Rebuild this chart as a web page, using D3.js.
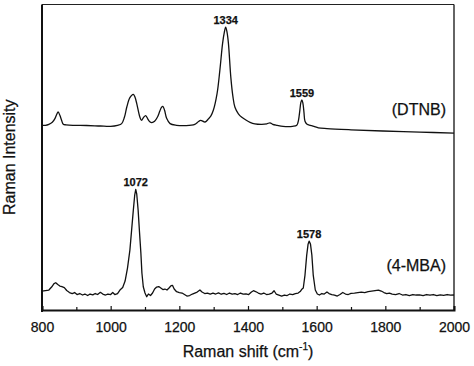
<!DOCTYPE html>
<html>
<head>
<meta charset="utf-8">
<script src="https://cdn.jsdelivr.net/npm/d3@7"></script>
<style>
  body { margin: 0; background: #fff; }
  svg { display: block; }
  text { font-family: "Liberation Sans", Arial, sans-serif; fill: #111; stroke: #111; stroke-width: 0.25px; }
</style>
</head>
<body>
<div id="chart"></div>
<script>
// Raman shift (cm-1) and intensity (a.u.)
var dtnbShift = [800, 810, 820, 830, 838, 843, 847, 852, 857, 862, 870, 890, 930, 970, 1000,
  1020, 1032, 1040, 1047, 1056, 1066, 1071, 1076, 1085, 1090, 1096, 1102, 1108, 1114, 1120,
  1128, 1136, 1143, 1148, 1152, 1157, 1163, 1173, 1192, 1220, 1245, 1255, 1262, 1275, 1285,
  1292, 1299, 1310, 1318, 1326, 1331, 1335, 1339, 1343, 1350, 1356, 1362, 1372, 1382, 1395,
  1406, 1420, 1440, 1455, 1464, 1472, 1485, 1502, 1530, 1542, 1547, 1551, 1554, 1557, 1560,
  1563, 1566, 1572, 1582, 1592, 1605, 1630, 1700, 1793, 1900, 2000];
var dtnbInt = [184, 184, 185, 187, 191, 195, 197.3, 194, 189, 185, 184.5, 184, 183.8, 183.3, 183,
  184, 185.7, 192, 202.3, 211.7, 215, 212, 205.7, 192.3, 189, 192, 193.7, 190.5, 187.5, 186.7,
  188, 192, 198, 202, 203, 199, 191, 185.7, 184, 183.7, 185, 187.5, 189, 187.3, 190.5,
  193.5, 199, 216, 239, 266, 277, 282.3, 277, 266, 232, 213, 202, 195.5, 192, 189,
  187, 185.5, 185, 185.5, 186.5, 185, 184, 183, 183, 184, 189, 199, 207, 209.5, 206,
  197, 188, 185, 184, 183, 181.5, 180.7, 179.5, 178.3, 177.2, 176.2];

var mbaShift = [800, 810, 820, 828, 835, 840, 846, 852, 858, 865, 872, 880, 888, 895, 902,
  910, 918, 925, 933, 940, 948, 955, 962, 970, 977, 985, 992, 1000, 1006, 1012,
  1020, 1027, 1035, 1042, 1049, 1056, 1061, 1066, 1070, 1073, 1076, 1080, 1084, 1088, 1091,
  1095, 1100, 1105, 1110, 1116, 1122, 1128, 1134, 1140, 1146, 1152, 1158, 1164, 1170, 1176,
  1180, 1185, 1192, 1200, 1208, 1215, 1222, 1230, 1238, 1245, 1252, 1260, 1266, 1274, 1282,
  1290, 1298, 1306, 1314, 1322, 1330, 1338, 1346, 1354, 1362, 1370, 1378, 1386, 1394, 1402,
  1410, 1416, 1422, 1430, 1438, 1446, 1454, 1462, 1470, 1476, 1482, 1490, 1498, 1506, 1514,
  1522, 1530, 1538, 1546, 1552, 1556, 1561, 1566, 1571, 1575, 1578, 1582, 1586, 1590, 1596,
  1602, 1608, 1615, 1622, 1630, 1636, 1644, 1652, 1660, 1668, 1676, 1684, 1692, 1700, 1710,
  1720, 1730, 1740, 1750, 1760, 1770, 1780, 1788, 1796, 1804, 1812, 1820, 1830, 1840, 1850,
  1860, 1870, 1880, 1890, 1900, 1910, 1920, 1930, 1940, 1950, 1960, 1970, 1980, 1990, 2000];
var mbaInt = [18, 18.5, 19, 22, 25.5, 26.3, 24.5, 23, 22.5, 21.5, 18.5, 16.5, 15.5, 16.5, 14.5,
  15.5, 14, 15, 13.5, 15, 14.2, 15.5, 14.5, 16.7, 15, 14, 15, 14.5, 16.5, 14.5,
  15.5, 19, 21.5, 28, 41, 59, 79, 99, 114, 119.7, 115, 99, 77, 56, 36,
  22.3, 16, 12.3, 15, 13.5, 16, 20, 22, 22.5, 21, 19.5, 20, 19, 21, 23.5,
  23.7, 20, 17.3, 16.5, 16, 14.5, 13, 13.5, 15, 16, 17, 19, 17, 15.5, 16,
  15, 16, 15, 16.2, 14.8, 15.7, 14.5, 16, 15, 15.5, 14.5, 16, 15, 15.2, 14.5,
  17, 18.3, 17.5, 16, 15, 16, 14.5, 15, 16, 18.3, 15, 14, 13, 14, 13.5,
  15, 14.5, 15.5, 16, 17.5, 19.5, 21, 34, 54, 65, 68, 65, 54, 34, 19,
  15, 14, 15.5, 15, 17, 15.5, 14.5, 14, 13, 14.5, 16.5, 15, 14.5, 15.7, 16,
  16.5, 17, 16.5, 17.5, 18, 18.5, 19, 18, 16.5, 15.5, 16, 15, 14.5, 15.5, 14,
  14.5, 13.5, 14.5, 14, 14.2, 13.5, 14.5, 13.8, 14.5, 13.5, 14.2, 13.7, 14.5, 13.8, 14];

var xTicks = [800, 1000, 1200, 1400, 1600, 1800, 2000];
var minorTicks = [900, 1100, 1300, 1500, 1700, 1900];
var peakLabels = ["1334", "1559", "1072", "1578"];
var peakShift = [1335, 1557, 1073, 1578];
var peakInt = [282.3, 209.5, 119.7, 68];
var seriesNames = ["(DTNB)", "(4-MBA)"];

var W = 474, H = 366;
var margin = {top: 4.5, right: 20, bottom: 56, left: 42};
var width = W - margin.left - margin.right,
    height = H - margin.top - margin.bottom;

var svg = d3.select("#chart").append("svg")
  .attr("width", W).attr("height", H);
var g = svg.append("g")
  .attr("transform", "translate(" + margin.left + "," + margin.top + ")");

var x = d3.scaleLinear().domain([800, 2000]).range([0, width]);
var y = d3.scaleLinear().domain([0, 305]).range([height - 1, 0]);

// frame
g.append("line").attr("x1", 0).attr("x2", width).attr("y1", 0).attr("y2", 0)
  .attr("stroke", "#222").attr("stroke-width", 1);
g.append("line").attr("x1", width).attr("x2", width).attr("y1", 0).attr("y2", height)
  .attr("stroke", "#111").attr("stroke-width", 1.3);

// bottom axis, ticks pointing inside
var xAxis = g.append("g")
  .attr("transform", "translate(0," + height + ")")
  .call(d3.axisBottom(x).tickValues(xTicks).tickSize(-4).tickPadding(12).tickFormat(d3.format("d")));
xAxis.select(".domain").attr("stroke", "#111").attr("stroke-width", 2);
xAxis.selectAll(".tick line").attr("stroke", "#111").attr("stroke-width", 1.2);
xAxis.selectAll(".tick text").attr("font-size", 14).attr("fill", "#111")
  .style("font-family", "'Liberation Sans', Arial, sans-serif");

var minor = g.append("g")
  .attr("transform", "translate(0," + height + ")")
  .call(d3.axisBottom(x).tickValues(minorTicks).tickSize(-3).tickFormat(""));
minor.select(".domain").remove();
minor.selectAll(".tick line").attr("stroke", "#111").attr("stroke-width", 1.2);

// left axis, no ticks
g.append("line").attr("x1", 0).attr("x2", 0).attr("y1", 0).attr("y2", height + 2)
  .attr("stroke", "#111").attr("stroke-width", 2);

// spectra
var smooth = d3.line()
  .x(function (d) { return x(d[0]); })
  .y(function (d) { return y(d[1]); })
  .curve(d3.curveCatmullRom.alpha(0.5));
var jagged = d3.line()
  .x(function (d) { return x(d[0]); })
  .y(function (d) { return y(d[1]); });

var dtnb = dtnbShift.map(function (s, i) { return [s, dtnbInt[i]]; });
var mba = mbaShift.map(function (s, i) { return [s, mbaInt[i]]; });

g.append("path").datum(dtnb)
  .attr("fill", "none").attr("stroke", "#111").attr("stroke-width", 1.3)
  .attr("stroke-linejoin", "round").attr("d", smooth);
g.append("path").datum(mba)
  .attr("fill", "none").attr("stroke", "#111").attr("stroke-width", 1.3)
  .attr("stroke-linejoin", "round").attr("d", jagged);

// peak labels
peakLabels.forEach(function (lab, i) {
  g.append("text")
    .attr("x", x(peakShift[i]))
    .attr("y", y(peakInt[i]) - 3)
    .attr("text-anchor", "middle")
    .attr("font-size", 11)
    .attr("font-weight", "bold")
    .text(lab);
});

// series names
g.append("text").attr("x", width - 8).attr("y", 110.5)
  .attr("text-anchor", "end").attr("font-size", 16).text(seriesNames[0]);
g.append("text").attr("x", width - 8).attr("y", 266.5)
  .attr("text-anchor", "end").attr("font-size", 16).text(seriesNames[1]);

// axis titles
var xt = svg.append("text")
  .attr("x", margin.left + width / 2)
  .attr("y", 357)
  .attr("text-anchor", "middle")
  .attr("font-size", 16);
xt.append("tspan").text("Raman shift (cm");
xt.append("tspan").attr("font-size", 10).attr("dy", -7).text("-1");
xt.append("tspan").attr("dy", 7).text(")");

svg.append("text")
  .attr("transform", "translate(15," + (margin.top + height / 2) + ") rotate(-90)")
  .attr("text-anchor", "middle")
  .attr("font-size", 16)
  .text("Raman Intensity");
</script>
</body>
</html>
